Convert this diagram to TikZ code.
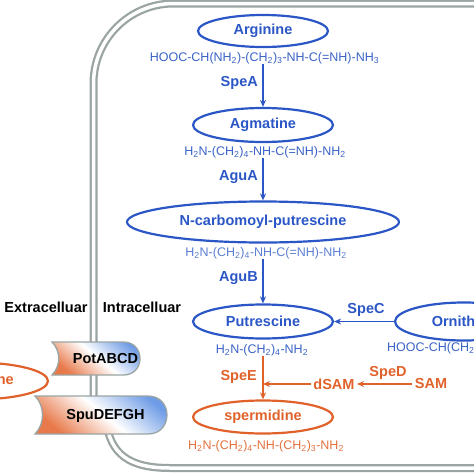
\documentclass[tikz,border=0pt]{standalone}
\usepackage{fontspec}
\setmainfont{Liberation Sans}
\usetikzlibrary{shapes.geometric,arrows.meta}
\definecolor{cblue}{HTML}{2A56C6}
\definecolor{fblue}{HTML}{3A63C6}
\definecolor{lblue}{HTML}{5A7ED2}
\definecolor{corange}{HTML}{E0622A}
\definecolor{forange}{HTML}{E2713E}
\definecolor{memgray}{HTML}{9AA5A3}
\definecolor{tporange}{HTML}{E8794A}
\definecolor{tpblue}{HTML}{6E9CE6}
\tikzset{
 mol/.style={ellipse, draw, line width=2.2pt, inner sep=0pt, font=\fontsize{14.5}{16}\selectfont\bfseries},
 bmol/.style={mol, draw=cblue, text=cblue},
 omol/.style={mol, draw=corange, text=corange},
 formula/.style={inner sep=0pt, font=\fontsize{12.5}{14}\selectfont},
 enz/.style={inner sep=0pt, font=\fontsize{14.5}{16}\selectfont\bfseries},
 barrow/.style={draw=cblue, line width=1.5pt, -{Stealth[length=7pt,width=6pt]}},
 oarrow/.style={draw=corange, line width=1.5pt, -{Stealth[length=7pt,width=6pt]}},
 transporter/.style={draw=memgray, line width=1.3pt, top color=tpblue, bottom color=tporange, middle color=white, shading angle=-40},
 membrane/.style={line width=8pt, draw=memgray},
 mgap/.style={line width=3.5pt, draw=white},
}
\begin{document}
\begin{tikzpicture}[x=1pt,y=-1pt]
\useasboundingbox (0,0) rectangle (474,474);
\clip (0,0) rectangle (474,474);
% membrane
\draw[membrane, rounded corners=80pt] (93.5,420) -- (93.5,3.5) -- (490,3.5);
\draw[mgap, rounded corners=80pt] (93.5,420) -- (93.5,3.5) -- (490,3.5);
\draw[membrane] (106,420) .. controls (110,455) and (130,468) .. (170,468) -- (490,468);
\draw[mgap] (106,420) .. controls (110,455) and (130,468) .. (170,468) -- (490,468);
% transporters
\path[transporter] (52,342) -- (123.5,342) .. controls (145.5,342) and (145.5,375) .. (123.5,375) -- (52,375) .. controls (61,366) and (61,351) .. (52,342) -- cycle;
\node[enz, text=black] (pot) at (105.5,359) {PotABCD};
\path[transporter] (35,396) -- (148,396) .. controls (173.3,396) and (173.3,434) .. (148,434) -- (35,434) .. controls (45,424) and (45,406) .. (35,396) -- cycle;
\node[enz, text=black] (spu) at (105.5,415.5) {SpuDEFGH};
% outside spermidine
\node[omol, minimum width=146pt, minimum height=37pt] (spdout) at (-25,381) {spermidine};
% labels
\node[enz] (extra) at (46,307) {Extracelluar};
\node[enz] (intra) at (142,307) {Intracelluar};
% molecules
\node[bmol, minimum width=130pt, minimum height=32pt] (arg) at (263,31) {Arginine};
\node[formula, text=fblue] (f1) at (264.5,58) {HOOC-CH(NH\textsubscript{2})-(CH\textsubscript{2})\textsubscript{3}-NH-C(=NH)-NH\textsubscript{3}};
\node[bmol, minimum width=140pt, minimum height=34pt] (agm) at (263,125) {Agmatine};
\node[formula, text=fblue] (f2) at (265,152) {H\textsubscript{2}N-(CH\textsubscript{2})\textsubscript{4}-NH-C(=NH)-NH\textsubscript{2}};
\node[bmol, minimum width=272pt, minimum height=41pt] (ncp) at (263,222) {N-carbomoyl-putrescine};
\node[formula, text=lblue] (f3) at (266,253) {H\textsubscript{2}N-(CH\textsubscript{2})\textsubscript{4}-NH-C(=NH)-NH\textsubscript{2}};
\node[bmol, minimum width=140pt, minimum height=34pt] (put) at (263,321.5) {Putrescine};
\node[formula, text=fblue] (f4) at (262,350) {H\textsubscript{2}N-(CH\textsubscript{2})\textsubscript{4}-NH\textsubscript{2}};
\node[omol, minimum width=140pt, minimum height=33pt] (spd) at (263,417) {spermidine};
\node[formula, text=forange] (f5) at (266,446) {H\textsubscript{2}N-(CH\textsubscript{2})\textsubscript{4}-NH-(CH\textsubscript{2})\textsubscript{3}-NH\textsubscript{2}};
\node[bmol, minimum width=138pt, minimum height=38pt] (orn) at (464,321.5) {Ornithine};
\node[formula, text=fblue, anchor=west] (f6) at (387,348) {HOOC-CH(CH\textsubscript{2})\textsubscript{3}-NH\textsubscript{2}};
% enzymes
\node[enz, text=cblue, anchor=east] (spea) at (258,83) {SpeA};
\node[enz, text=cblue, anchor=east] (agua) at (258,177) {AguA};
\node[enz, text=cblue, anchor=east] (agub) at (258,278) {AguB};
\node[enz, text=cblue] (spec) at (366,310) {SpeC};
\node[enz, text=corange, anchor=east] (spee) at (257,377) {SpeE};
\node[enz, text=corange] (sped) at (388,373) {SpeD};
\node[enz, text=corange, outer sep=2.5pt] (dsam) at (334,384) {dSAM};
\node[enz, text=corange, outer sep=2.5pt] (sam) at (431,384) {SAM};
% arrows
\draw[barrow] (f1.south -| arg.center) -- (agm);
\draw[barrow] (f2.south -| agm.center) -- (ncp);
\draw[barrow] (f3.south -| ncp.center) -- (put);
\draw[barrow] (orn) -- (put);
\draw[oarrow] (f4.south -| put.center) -- (spd);
\coordinate (join) at (dsam -| put.center);
\draw[oarrow] (dsam) -- (join);
\draw[oarrow] (sam) -- (dsam);
\end{tikzpicture}
\end{document}
